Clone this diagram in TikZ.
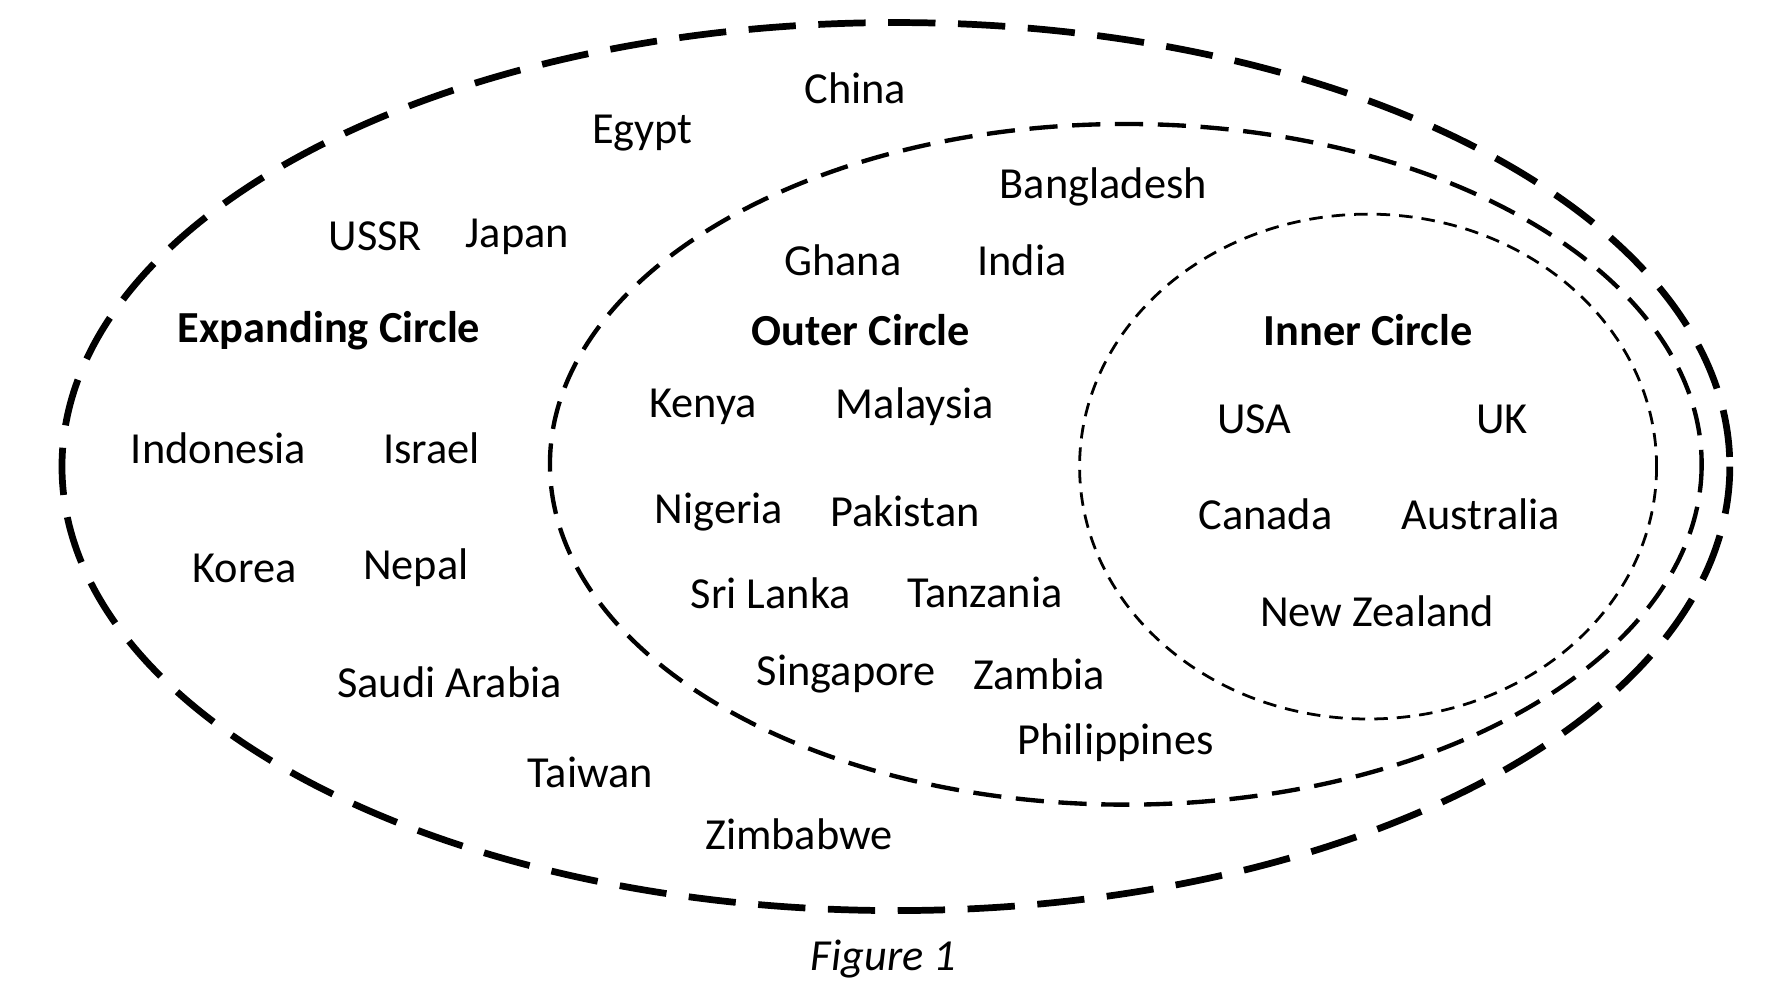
\documentclass[tikz,border=0pt]{standalone}
\usepackage{fontspec}
\setmainfont{Carlito}
\begin{document}
\begin{tikzpicture}[x=1cm,y=-1cm,
  lbl/.style={font=\fontsize{11.2}{13}\selectfont,inner sep=0pt},
  hd/.style={lbl,font=\fontsize{11.2}{13}\selectfont\bfseries}]
\useasboundingbox (0,0) rectangle (15.68,8.856);
\draw[line width=1.7pt,dash pattern=on 0.42cm off 0.2cm] (7.95,4.14) ellipse [x radius=7.4,y radius=3.94];
\draw[line width=1.1pt,dash pattern=on 0.25cm off 0.13cm] (9.99,4.12) ellipse [x radius=5.11,y radius=3.02];
\draw[line width=0.7pt,dash pattern=on 0.12cm off 0.08cm] (12.14,4.14) ellipse [x radius=2.56,y radius=2.24];
\node[hd] (ec) at (2.92,2.93) {Expanding Circle};
\node[hd] (oc) at (7.64,2.93) {Outer Circle};
\node[hd] (ic) at (12.14,2.93) {Inner Circle};
\node[lbl] (a1) at (7.59,0.78) {China};
\node[lbl] (a2) at (5.70,1.18) {Egypt};
\node[lbl] (a3) at (3.33,2.10) {USSR};
\node[lbl] (a4) at (4.59,2.10) {Japan};
\node[lbl] (a5) at (1.94,3.98) {Indonesia};
\node[lbl] (a6) at (3.83,3.98) {Israel};
\node[lbl] (a7) at (2.17,5.04) {Korea};
\node[lbl] (a8) at (3.69,5.04) {Nepal};
\node[lbl] (a9) at (3.99,6.05) {Saudi Arabia};
\node[lbl] (a10) at (5.24,6.85) {Taiwan};
\node[lbl] (a11) at (7.09,7.40) {Zimbabwe};
\node[lbl] (b1) at (9.79,1.66) {Bangladesh};
\node[lbl] (b2) at (7.48,2.31) {Ghana};
\node[lbl] (b3) at (9.07,2.31) {India};
\node[lbl] (b4) at (6.24,3.61) {Kenya};
\node[lbl] (b5) at (8.12,3.61) {Malaysia};
\node[lbl] (b6) at (6.38,4.54) {Nigeria};
\node[lbl] (b7) at (8.03,4.54) {Pakistan};
\node[lbl] (b8) at (6.84,5.26) {Sri Lanka};
\node[lbl] (b9) at (8.74,5.26) {Tanzania};
\node[lbl] (b10) at (7.51,5.98) {Singapore};
\node[lbl] (b11) at (9.22,5.98) {Zambia};
\node[lbl] (b12) at (9.90,6.59) {Philippines};
\node[lbl] (c1) at (11.13,3.72) {USA};
\node[lbl] (c2) at (13.33,3.72) {UK};
\node[lbl] (c3) at (11.23,4.56) {Canada};
\node[lbl] (c4) at (13.14,4.56) {Australia};
\node[lbl] (c5) at (12.22,5.42) {New Zealand};
\node[lbl,font=\fontsize{11.2}{13}\selectfont\itshape] (fig) at (7.84,8.51) {Figure 1};
\end{tikzpicture}
\end{document}
